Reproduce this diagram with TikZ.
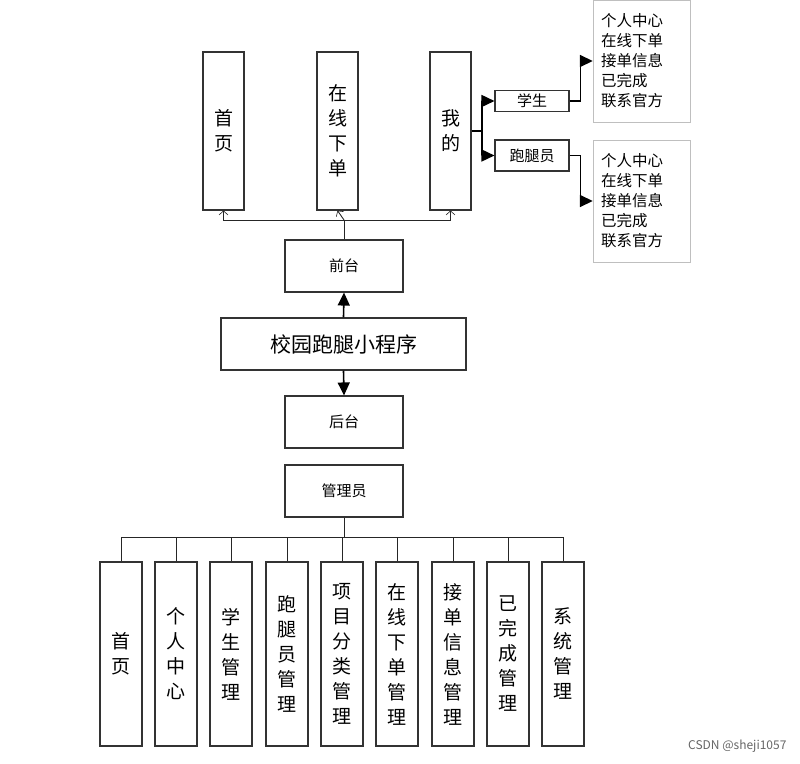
\documentclass[tikz,border=0pt]{standalone}
\usepackage{fontspec}
\setmainfont{Noto Sans CJK SC}
\usetikzlibrary{arrows.meta}
\begin{document}
\begin{tikzpicture}[x=1pt,y=-1pt,
  box/.style={draw=black!80,line width=1.1pt,fill=white,inner sep=0pt},
  vbox/.style={box,minimum width=41pt,align=center,font=\fontsize{19}{25}\selectfont},
  sbox/.style={box,font=\fontsize{15}{17}\selectfont},
  lbox/.style={draw=black!25,fill=white,inner xsep=8pt,inner ysep=0pt,align=left,font=\fontsize{15.5}{20}\selectfont,text width=81pt},
  ln/.style={line width=0.9pt,black!85},
  open/.style={ln,-{Straight Barb[length=4pt,width=9pt,line width=0.6pt]}},
  thick/.style={line width=1.6pt,-{Triangle[length=13pt,width=12pt]}}]
\useasboundingbox (0,0) rectangle (800,763);
% top
\node[vbox,minimum height=158pt] (t1) at (223.5,131) {首\\页};
\node[vbox,minimum height=158pt] (t2) at (337.5,131) {在\\线\\下\\单};
\node[vbox,minimum height=158pt] (t3) at (450.5,131) {我\\的};
\node[sbox,minimum width=118pt,minimum height=52pt] (qt) at (344,266) {前台};
\node[box,minimum width=245pt,minimum height=52pt,font=\fontsize{21}{24}\selectfont] (main) at (343.5,344) {校园跑腿小程序};
\node[sbox,minimum width=118pt,minimum height=52pt] (ht) at (344,422) {后台};
\node[sbox,minimum width=118pt,minimum height=52pt] (gl) at (344,491) {管理员};
\coordinate (j) at (344,220);
\draw[ln] (qt.north) -- (j);
\draw[open] (j) -- (t2.south);
\draw[open] (j) -| (t1.south);
\draw[open] (j) -| (t3.south);
\draw[thick] (main.north) -- (qt.south);
\draw[thick] (main.south) -- (ht.north);
% right
\node[sbox,minimum width=74pt,minimum height=21pt] (xs) at (532,101) {学生};
\node[sbox,minimum width=74pt,minimum height=31pt] (pt) at (532,155.5) {跑腿员};
\node[lbox,minimum height=122pt] (r1) at (641.5,61) {个人中心\\在线下单\\接单信息\\已完成\\联系官方};
\node[lbox,minimum height=122pt] (r2) at (641.5,201) {个人中心\\在线下单\\接单信息\\已完成\\联系官方};
\coordinate (k) at (482,131);
\draw[line width=1.6pt] (t3.east |- k) -- (k);
\draw[thick] (k) |- (xs.west);
\draw[thick] (k) |- (pt.west);
\draw[thick] (xs.east) -- ++(11,0) |- (r1.west);
\draw[thick] (pt.east) -- ++(11,0) |- (r2.west);
% bottom
\coordinate (b) at (344,537);
\draw[ln] (gl.south) -- (b);
\foreach \x/\t [count=\i] in {100/{首\\页},155/{个\\人\\中\\心},210/{学\\生\\管\\理},266/{跑\\腿\\员\\管\\理},321/{项\\目\\分\\类\\管\\理},376/{在\\线\\下\\单\\管\\理},432/{接\\单\\信\\息\\管\\理},487/{已\\完\\成\\管\\理},542/{系\\统\\管\\理}}{
  \node[vbox,minimum width=42pt,minimum height=184pt] (m\i) at (\x+21,654) {\t};
  \draw[ln] (m\i.north) -- (m\i.north |- b);
}
\draw[ln] (m1.north |- b) -- (m9.north |- b);
\node[font=\fontsize{12}{14}\selectfont,text=black!60,anchor=east] (wm) at (790,746) {CSDN @sheji1057};
\end{tikzpicture}
\end{document}
